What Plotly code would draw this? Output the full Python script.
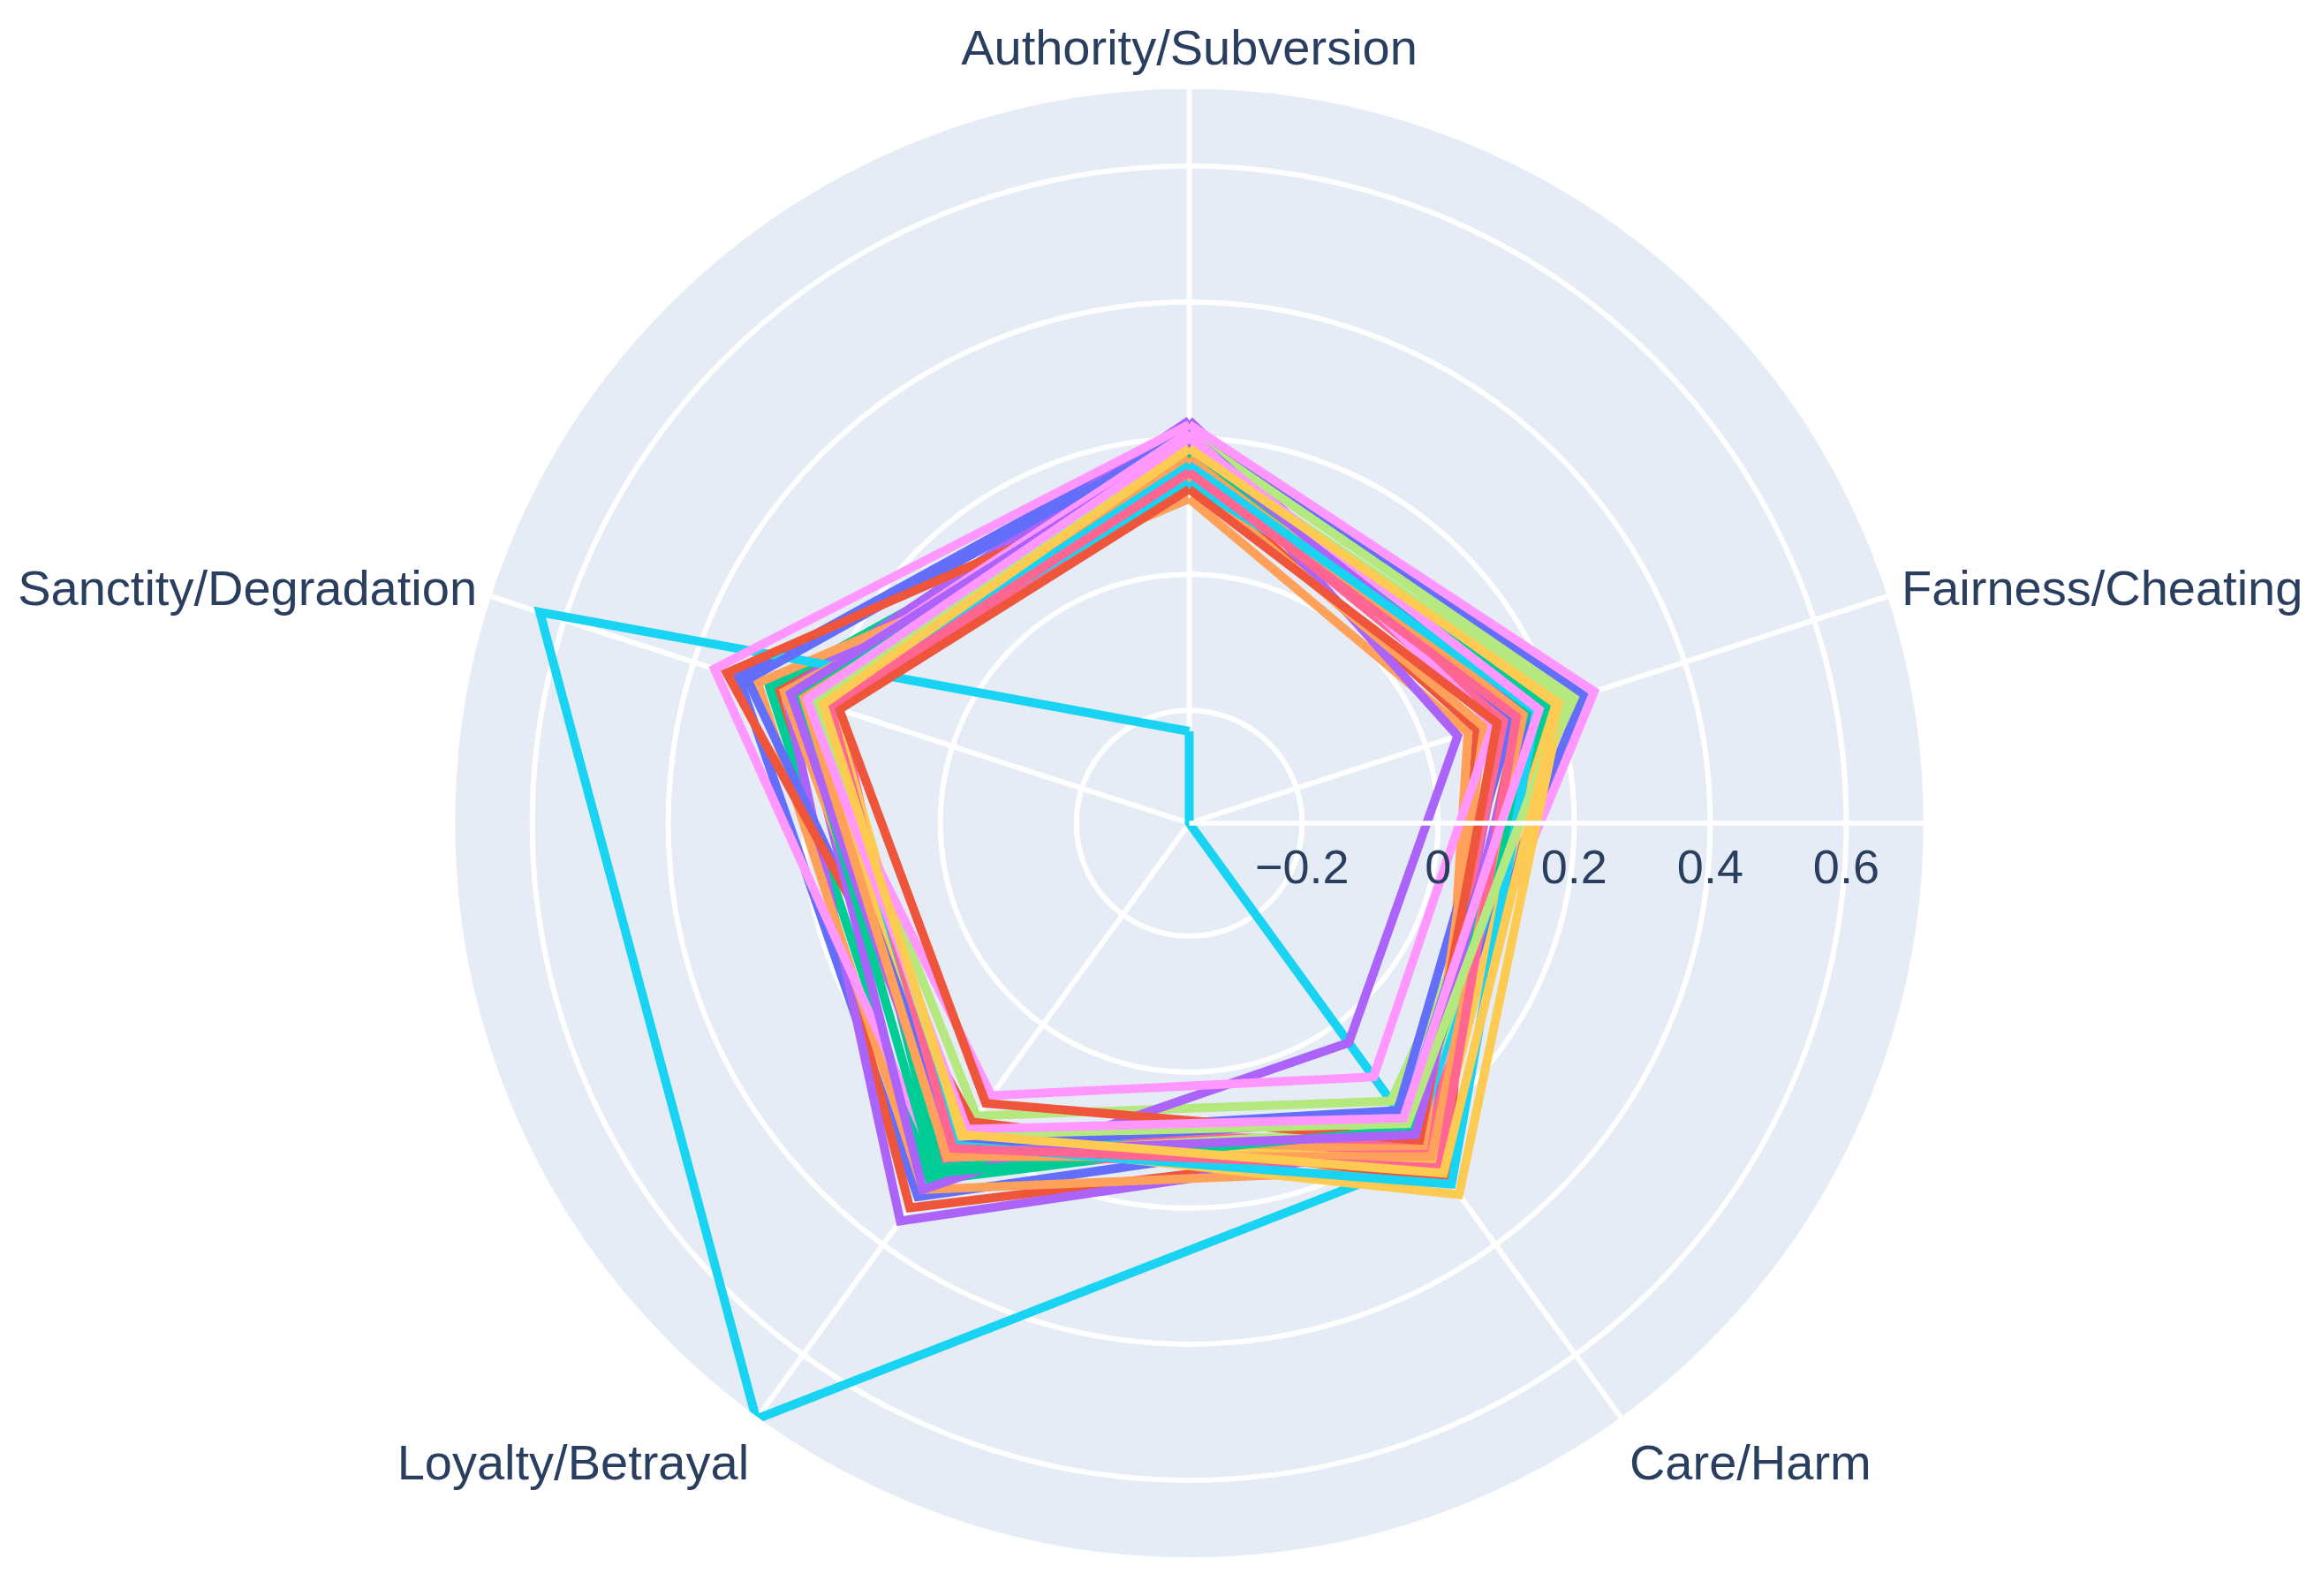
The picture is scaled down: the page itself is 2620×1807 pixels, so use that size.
import plotly.graph_objects as go

# moral foundation axes, drawn clockwise from the top
foundations = ["Authority/Subversion", "Fairness/Cheating", "Care/Harm",
               "Loyalty/Betrayal", "Sanctity/Degradation"]

# one row per respondent, values in the order of `foundations`
scores = [
    [0.214, 0.243, 0.185, 0.313, 0.331],
    [0.163, 0.144, 0.220, 0.333, 0.275],
    [0.176, 0.177, 0.177, 0.283, 0.283],
    [0.226, 0.120, 0.218, 0.357, 0.258],
    [0.111, 0.065, 0.261, 0.300, 0.301],
    [-0.231, -0.366, 0.239, 0.717, 0.638],
    [0.147, 0.150, 0.233, 0.250, 0.176],
    [0.205, 0.229, 0.139, 0.166, 0.219],
    [0.220, 0.260, 0.194, 0.260, 0.368],
    [0.181, 0.210, 0.309, 0.212, 0.186],
    [0.207, 0.134, 0.156, 0.203, 0.317],
    [0.153, 0.079, 0.281, 0.177, 0.349],
    [0.169, 0.160, 0.200, 0.260, 0.199],
    [0.203, 0.049, 0.033, 0.300, 0.238],
    [0.140, 0.090, 0.220, 0.230, 0.260],
    [0.134, 0.194, 0.204, 0.220, 0.210],
    [0.160, 0.120, 0.210, 0.200, 0.220],
    [0.190, 0.200, 0.190, 0.240, 0.230],
    [0.209, 0.104, 0.095, 0.129, 0.247],
    [0.170, 0.190, 0.247, 0.210, 0.230],
    [0.190, 0.170, 0.170, 0.220, 0.250],
    [0.125, 0.110, 0.210, 0.143, 0.175],
    [0.180, 0.185, 0.190, 0.270, 0.240],
    [0.195, 0.150, 0.200, 0.234, 0.250],
    [0.170, 0.150, 0.240, 0.240, 0.230],
    [0.160, 0.170, 0.290, 0.220, 0.200],
    [0.150, 0.140, 0.260, 0.225, 0.190],
    [0.185, 0.215, 0.180, 0.200, 0.210],
    [0.200, 0.175, 0.170, 0.190, 0.225],
    [0.185, 0.205, 0.270, 0.200, 0.200],
]

radial_ticks = [-0.2, 0, 0.2, 0.4, 0.6]

fig = go.Figure()
for i, row in enumerate(scores):
    # close the polygon by repeating the first point
    fig.add_trace(go.Scatterpolar(
        r=row + row[:1],
        theta=foundations + foundations[:1],
        mode="lines",
        line=dict(width=10),
        name=f"Respondent {i + 1}",
    ))

# margins are a bit uneven to offset the page's default body margin
fig.update_layout(
    width=2620,
    height=1807,
    showlegend=False,
    font=dict(family="Liberation Sans, Arial, sans-serif", size=55, color="#2a3f5f"),
    margin=dict(l=137, r=80, t=90, b=49),
    polar=dict(
        bgcolor="#E5ECF6",
        angularaxis=dict(
            direction="clockwise",
            rotation=90,
            gridcolor="white",
            gridwidth=5.5,
            linecolor="white",
            linewidth=5.5,
            tickfont=dict(size=56),
        ),
        radialaxis=dict(
            range=[-0.366, 0.717],
            tickvals=radial_ticks,
            gridcolor="white",
            gridwidth=5.5,
            linecolor="white",
            linewidth=5.5,
            tickfont=dict(size=54),
        ),
    ),
)

fig.write_html("out.html")
